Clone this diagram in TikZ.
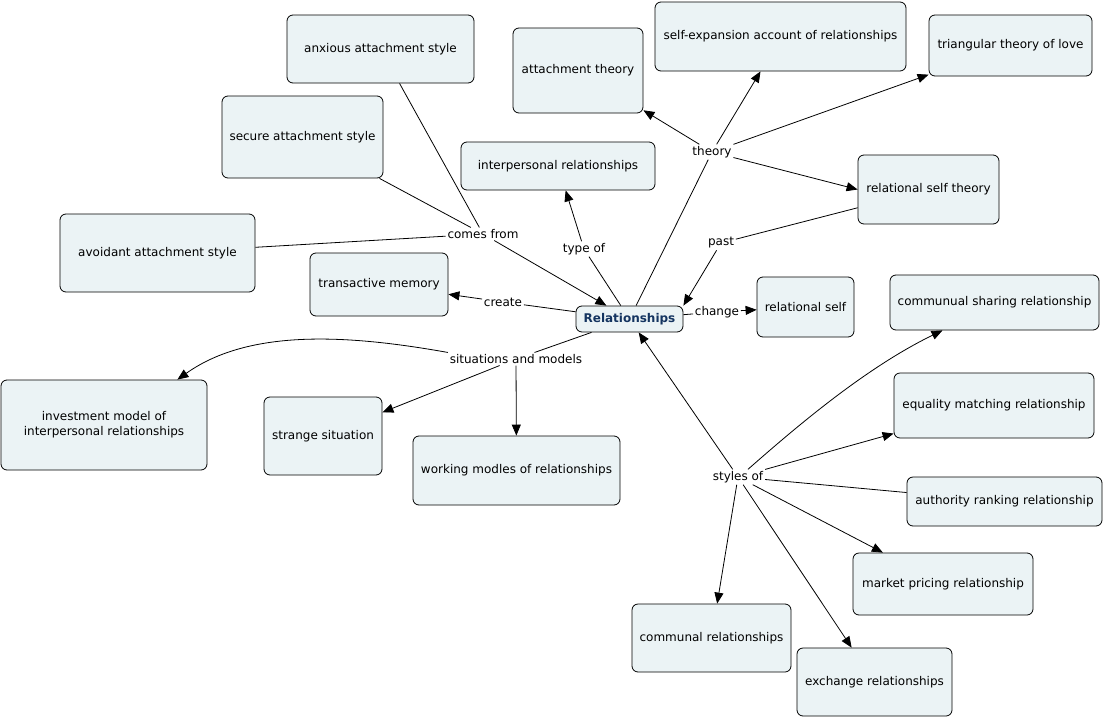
\documentclass[tikz,border=0pt]{standalone}
\usepackage{fontspec}
\setmainfont{DejaVu Sans}
\usetikzlibrary{arrows.meta}
\definecolor{boxfill}{RGB}{235,243,245}
\definecolor{reltext}{RGB}{20,52,96}

\begin{document}
\begin{tikzpicture}[x=1pt,y=-1pt,line width=0.8pt,
  concept/.style={draw,rounded corners=6pt,fill=boxfill,align=center,inner sep=0pt,
    font=\fontsize{12}{15}\selectfont},
  linkword/.style={fill=white,inner sep=1.5pt,font=\fontsize{12}{15}\selectfont},
  arr/.style={-{Triangle[length=11pt,width=9pt]}}]
\useasboundingbox (0,0) rectangle (1104,718);
% concepts
\node[concept,minimum width=107pt,minimum height=26pt,font=\bfseries\fontsize{12}{15}\selectfont,text=reltext] (rel) at (629.5,319) {Relationships};
\node[concept,minimum width=187pt,minimum height=68pt] (anx) at (380.5,49) {anxious attachment style};
\node[concept,minimum width=161pt,minimum height=82pt] (sec) at (302.5,137) {secure attachment style};
\node[concept,minimum width=195pt,minimum height=78pt] (avo) at (157.5,253) {avoidant attachment style};
\node[concept,minimum width=138pt,minimum height=63pt] (tra) at (379,284.5) {transactive memory};
\node[concept,minimum width=194pt,minimum height=48pt] (ipr) at (558,166) {interpersonal relationships};
\node[concept,minimum width=130pt,minimum height=85pt] (att) at (578,70.5) {attachment theory};
\node[concept,minimum width=251pt,minimum height=69pt] (sel) at (780.5,36.5) {self-expansion account of relationships};
\node[concept,minimum width=163pt,minimum height=61pt] (tri) at (1010.5,45.5) {triangular theory of love};
\node[concept,minimum width=141pt,minimum height=69pt] (rst) at (928.5,189.5) {relational self theory};
\node[concept,minimum width=97pt,minimum height=60pt] (rself) at (805.5,307) {relational self};
\node[concept,minimum width=209pt,minimum height=55pt] (csr) at (994.5,302.5) {communual sharing relationship};
\node[concept,minimum width=200pt,minimum height=65pt] (emr) at (994,405.5) {equality matching relationship};
\node[concept,minimum width=195pt,minimum height=49pt] (arr) at (1004.5,501.5) {authority ranking relationship};
\node[concept,minimum width=180pt,minimum height=62pt] (mpr) at (943,584) {market pricing relationship};
\node[concept,minimum width=155pt,minimum height=68pt] (exr) at (874.5,682) {exchange relationships};
\node[concept,minimum width=159pt,minimum height=68pt] (cor) at (711.5,638) {communal relationships};
\node[concept,minimum width=207pt,minimum height=69pt] (wmr) at (516.5,470.5) {working modles of relationships};
\node[concept,minimum width=118pt,minimum height=78pt] (str) at (323,436) {strange situation};
\node[concept,minimum width=206pt,minimum height=90pt] (inv) at (104,425) {investment model of\\interpersonal relationships};
% linking words
\node[linkword] (comes) at (483,234) {comes from};
\node[linkword] (typeof) at (584,249) {type of};
\node[linkword] (theory) at (712,152) {theory};
\node[linkword] (past) at (721,243) {past};
\node[linkword] (create) at (503,302) {create};
\node[linkword] (change) at (717,312) {change};
\node[linkword] (sit) at (516,359) {situations and models};
\node[linkword] (sty) at (738,477) {styles of};
% connectors
\draw (anx) -- (comes);
\draw (sec) -- (comes);
\draw (avo) -- (comes);
\draw[arr] (comes) -- (rel);
\draw (rel) -- (typeof);
\draw[arr] (typeof) -- (ipr);
\draw (rel) -- (theory);
\draw[arr] (theory) -- (att);
\draw[arr] (theory) -- ([xshift=-20pt]sel.south);
\draw[arr] (theory) -- (tri);
\draw[arr] (theory) -- (rst.west);
\draw (rst) -- (past);
\draw[arr] (past) -- (rel.north east);
\draw (rel) -- (create);
\draw[arr] (create) -- (tra);
\draw (rel) -- (change);
\draw[arr] (change) -- (rself);
\draw (rel) -- (sit);
\draw[arr] (sit.north west) .. controls (350,335) and (250,328) .. ([xshift=-30pt]inv.north east);
\draw[arr] (sit) -- (str);
\draw[arr] (sit) -- (wmr);
\draw[arr] (sty) -- (rel);
\draw[arr] ([xshift=10pt]sty.north) .. controls (795,428) and (865,368) .. ([xshift=-52pt]csr.south);
\draw[arr] (sty) -- (emr);
\draw (sty) -- (arr);
\draw[arr] (sty) -- (mpr);
\draw[arr] (sty) -- (cor);
\draw[arr] (sty) -- (exr);
\end{tikzpicture}
\end{document}
